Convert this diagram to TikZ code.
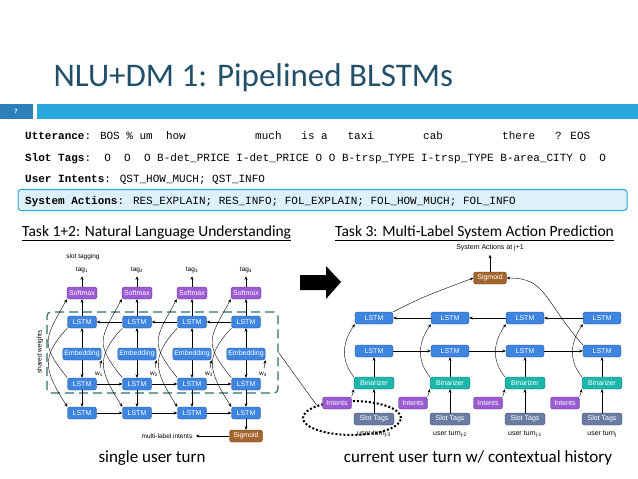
\documentclass[tikz,border=0pt]{standalone}
\usepackage{fontspec}
\setmainfont{Carlito}
\newfontfamily\monof{Liberation Mono}
\newfontfamily\helv{Liberation Sans}
\usetikzlibrary{arrows.meta,shapes.geometric}
\definecolor{titleteal}{HTML}{22506A}
\definecolor{barblue}{HTML}{2AA8DE}
\definecolor{bardark}{HTML}{2C7FB8}
\definecolor{actfill}{HTML}{DDF1FA}
\definecolor{lstmblue}{HTML}{3D85E0}
\definecolor{softpurple}{HTML}{9A5BD3}
\definecolor{sigbrown}{HTML}{A5662E}
\definecolor{binteal}{HTML}{1CB6AA}
\definecolor{slotgray}{HTML}{6B7CA2}
\definecolor{boxteal}{HTML}{2E6F6A}
\tikzset{
  box/.style={rounded corners=2.5pt, draw, text=white, inner sep=1.5pt,
    minimum height=12pt, font=\helv\fontsize{7}{8}\selectfont},
  lstm/.style={box, fill=lstmblue, draw=lstmblue!60!black, minimum width=29pt},
  soft/.style={box, fill=softpurple, draw=softpurple!60!black, minimum width=30pt},
  sig/.style={box, fill=sigbrown, draw=sigbrown!60!black, minimum width=33pt},
  bin/.style={box, fill=binteal, draw=binteal!60!black, minimum width=40pt},
  slot/.style={box, fill=slotgray, draw=slotgray!60!black, minimum width=40pt},
  small/.style={font=\helv\fontsize{6.5}{7}\selectfont},
  mono/.style={anchor=base west, inner sep=0pt, font=\monof\fontsize{11}{12}\selectfont},
  arr/.style={-{Stealth[length=3.5pt,width=3pt]}, thin},
  task/.style={font=\fontsize{15.5}{17}\selectfont, inner sep=0pt},
  caption/.style={font=\fontsize{17}{19}\selectfont}
}
\begin{document}
\begin{tikzpicture}[x=1pt,y=-1pt]
\useasboundingbox (0,0) rectangle (638,479);
% title and bar
\node[anchor=west, text=titleteal, font=\fontsize{33}{36}\selectfont] (title) at (50,78) {NLU+DM 1: Pipelined BLSTMs};
\fill[bardark] (0,104) rectangle (33,119);
\node[text=white, font=\helv\bfseries\fontsize{6}{7}\selectfont] (pnum) at (16,111) {7};
\fill[barblue] (37,104) rectangle (638,119);
% example lines
\node[draw=barblue, fill=actfill, rounded corners=3pt, line width=1pt, minimum width=609pt, minimum height=21pt] (actbox) at (322.5,200) {};
\node[mono] (utt) at (25,139) {\textbf{Utterance}: BOS \% um~~how};
\node[mono] (utt2) at (255,139) {much~~~is a~~~taxi};
\node[mono] (utt3) at (423,139) {cab};
\node[mono] (utt4) at (502,139) {there~~~? EOS};
\node[mono] (tags) at (25,161) {\textbf{Slot Tags}:~~O~~O~~O B-det\_PRICE I-det\_PRICE O O B-trsp\_TYPE I-trsp\_TYPE B-area\_CITY O~~O};
\node[mono] (intents) at (25,182) {\textbf{User Intents}: QST\_HOW\_MUCH; QST\_INFO};
\node[mono] (actions) at (25,204) {\textbf{System Actions}: RES\_EXPLAIN; RES\_INFO; FOL\_EXPLAIN; FOL\_HOW\_MUCH; FOL\_INFO};
% task headings
\node[task, anchor=base west] (task1) at (22,236) {\underline{Task 1+2: Natural Language Understanding}};
\node[task, anchor=base west] (task3) at (335,236) {\underline{Task 3: Multi-Label System Action Prediction}};
% left: single user turn
\node[draw=boxteal, dashed, dash pattern=on 9pt off 5pt, line width=1.2pt, rounded corners=4pt, minimum width=231pt, minimum height=81pt] (shared) at (162.5,352.5) {};
\node[small, rotate=90] (sw) at (40,352) {shared weights};
\node[small] (sltag) at (83,257) {slot tagging};
\foreach \i/\x in {1/82,2/137,3/192,4/246}{
  \node[small] (tag\i) at (\x,270) {tag\textsubscript{\i}};
  \node[soft] (sm\i) at (\x,293) {Softmax};
  \node[lstm] (lt\i) at (\x,322) {LSTM};
  \node[lstm, minimum width=38pt] (em\i) at (\x,354) {Embedding};
  \node[lstm] (lm\i) at (\x,384) {LSTM};
  \node[lstm] (lb\i) at (\x,413) {LSTM};
  \node[small] (w\i) at (\x+17,374) {w\textsubscript{\i}};
  \draw[arr] (sm\i) -- (tag\i);
  \draw[arr] (lt\i) -- (sm\i);
  \draw[arr] (em\i) -- (lt\i);
  \draw[arr] (em\i) -- (lm\i);
  \draw[arr] (lm\i) -- (lb\i);
  \draw[arr] (w\i) -- (em\i.south east);
  \draw[arr] (lm\i.north west) .. controls +(-28,-35) and +(-22,40) .. (sm\i.south west);
  \draw[arr] (lt\i.south west) .. controls +(-28,30) and +(-22,-35) .. (lb\i.north west);
}
\foreach \i/\j in {1/2,2/3,3/4}{
  \draw[arr] (lt\j) -- (lt\i);
  \draw[arr] (lm\i) -- (lm\j);
  \draw[arr] (lb\i) -- (lb\j);
}
\node[sig] (lsig) at (246,436) {Sigmoid};
\node[small] (mli) at (167,436) {multi-label intents};
\draw[arr] (lb4) -- (lsig);
\draw[arr] (lsig) -- (mli);
% big arrow
\fill (300,275) -- (326,275) -- (326,266) -- (341,282) -- (326,299) -- (326,290) -- (300,290) -- cycle;
% right: contextual history
\node[draw, ellipse, dotted, line width=2pt, minimum width=98pt, minimum height=34pt] (ring) at (352,418) {};
\draw[thin] (shared.east) -- (ring.north west);
\node[small, font=\helv\fontsize{7}{8}\selectfont] (sysat) at (490,248) {System Actions at j+1};
\node[sig] (rsig) at (490,278) {Sigmoid};
\draw[arr] (rsig) -- (sysat);
\foreach \i/\x/\s in {1/374/j-3,2/450/j-2,3/525/j-1,4/602/j}{
  \node[lstm, minimum width=38pt] (rt\i) at (\x,318) {LSTM};
  \node[lstm, minimum width=38pt] (rm\i) at (\x,351) {LSTM};
  \node[bin] (bn\i) at (\x,383) {Binarizer};
  \node[soft, minimum width=29pt] (it\i) at (\x-37,403) {Intents};
  \node[slot] (st\i) at (\x,419) {Slot Tags};
  \node[small, font=\helv\fontsize{7}{8}\selectfont] (ut\i) at (\x,434) {user turn\textsubscript{\s}};
  \draw[arr] (st\i) -- (bn\i);
  \draw[arr] (it\i.north east) -- (bn\i.south west);
  \draw[arr] (bn\i) -- (rm\i);
  \draw[arr] (bn\i.north west) .. controls +(-14,-18) and +(-12,18) .. (rt\i.south west);
}
\foreach \i/\j in {1/2,2/3,3/4}{
  \draw[arr] (rt\j) -- (rt\i);
  \draw[arr] (rm\i) -- (rm\j);
}
\draw[arr] (rt1.north east) .. controls +(30,-15) .. (rsig.west);
\draw[arr] (rm4.north west) .. controls +(-40,-45) and +(40,0) .. (rsig.east);
% captions
\node[caption] (cap1) at (152,458) {single user turn};
\node[caption] (cap2) at (478,458) {current user turn w/ contextual history};
\end{tikzpicture}
\end{document}
